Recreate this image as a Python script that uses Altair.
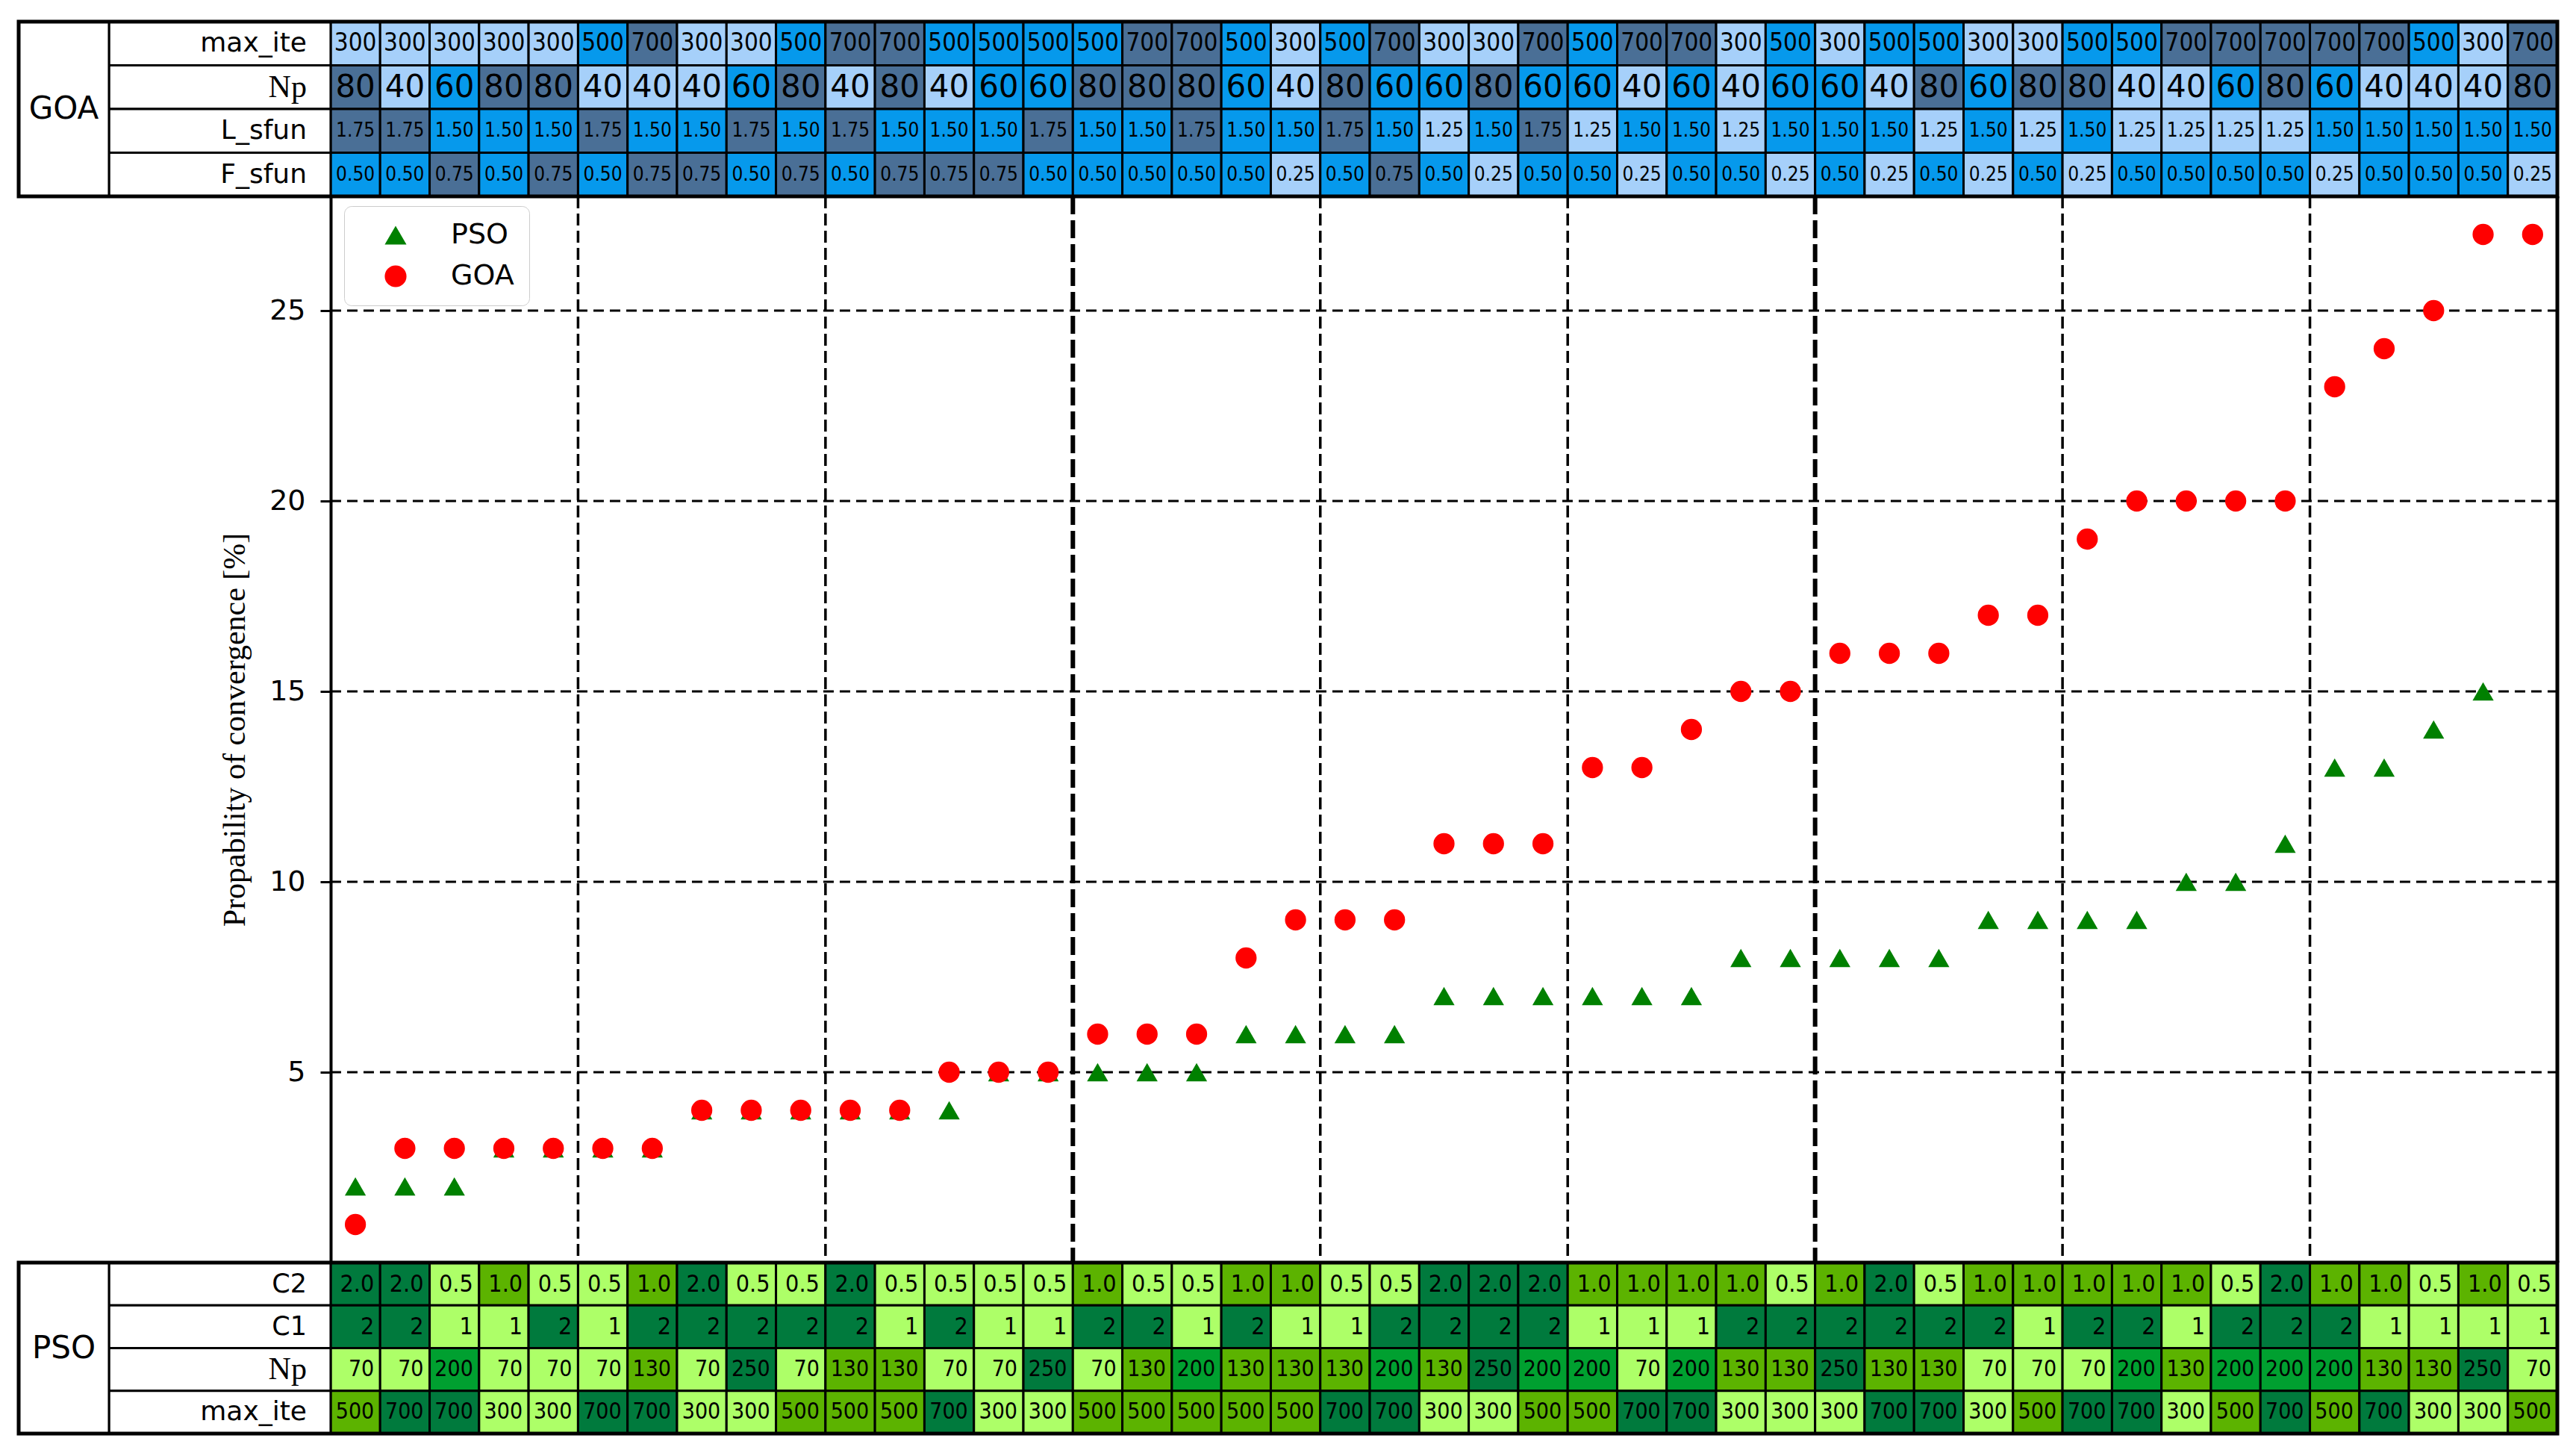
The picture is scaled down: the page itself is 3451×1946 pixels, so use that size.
import altair as alt
import pandas as pd

# ---------------- data ----------------
columns = list(range(1, 46))

goa_max_ite = [300, 300, 300, 300, 300, 500, 700, 300, 300, 500, 700, 700, 500, 500, 500,
               500, 700, 700, 500, 300, 500, 700, 300, 300, 700, 500, 700, 700, 300, 500,
               300, 500, 500, 300, 300, 500, 500, 700, 700, 700, 700, 700, 500, 300, 700]
goa_np = [80, 40, 60, 80, 80, 40, 40, 40, 60, 80, 40, 80, 40, 60, 60,
          80, 80, 80, 60, 40, 80, 60, 60, 80, 60, 60, 40, 60, 40, 60,
          60, 40, 80, 60, 80, 80, 40, 40, 60, 80, 60, 40, 40, 40, 80]
goa_l_sfun = [1.75, 1.75, 1.50, 1.50, 1.50, 1.75, 1.50, 1.50, 1.75, 1.50, 1.75, 1.50, 1.50, 1.50, 1.75,
              1.50, 1.50, 1.75, 1.50, 1.50, 1.75, 1.50, 1.25, 1.50, 1.75, 1.25, 1.50, 1.50, 1.25, 1.50,
              1.50, 1.50, 1.25, 1.50, 1.25, 1.50, 1.25, 1.25, 1.25, 1.25, 1.50, 1.50, 1.50, 1.50, 1.50]
goa_f_sfun = [0.50, 0.50, 0.75, 0.50, 0.75, 0.50, 0.75, 0.75, 0.50, 0.75, 0.50, 0.75, 0.75, 0.75, 0.50,
              0.50, 0.50, 0.50, 0.50, 0.25, 0.50, 0.75, 0.50, 0.25, 0.50, 0.50, 0.25, 0.50, 0.50, 0.25,
              0.50, 0.25, 0.50, 0.25, 0.50, 0.25, 0.50, 0.50, 0.50, 0.50, 0.25, 0.50, 0.50, 0.50, 0.25]

pso_c2 = [2.0, 2.0, 0.5, 1.0, 0.5, 0.5, 1.0, 2.0, 0.5, 0.5, 2.0, 0.5, 0.5, 0.5, 0.5,
          1.0, 0.5, 0.5, 1.0, 1.0, 0.5, 0.5, 2.0, 2.0, 2.0, 1.0, 1.0, 1.0, 1.0, 0.5,
          1.0, 2.0, 0.5, 1.0, 1.0, 1.0, 1.0, 1.0, 0.5, 2.0, 1.0, 1.0, 0.5, 1.0, 0.5]
pso_c1 = [2, 2, 1, 1, 2, 1, 2, 2, 2, 2, 2, 1, 2, 1, 1,
          2, 2, 1, 2, 1, 1, 2, 2, 2, 2, 1, 1, 1, 2, 2,
          2, 2, 2, 2, 1, 2, 2, 1, 2, 2, 2, 1, 1, 1, 1]
pso_np = [70, 70, 200, 70, 70, 70, 130, 70, 250, 70, 130, 130, 70, 70, 250,
          70, 130, 200, 130, 130, 130, 200, 130, 250, 200, 200, 70, 200, 130, 130,
          250, 130, 130, 70, 70, 70, 200, 130, 200, 200, 200, 130, 130, 250, 70]
pso_max_ite = [500, 700, 700, 300, 300, 700, 700, 300, 300, 500, 500, 500, 700, 300, 300,
               500, 500, 500, 500, 500, 700, 700, 300, 300, 500, 500, 700, 700, 300, 300,
               300, 700, 700, 300, 500, 700, 700, 300, 500, 700, 500, 700, 300, 300, 500]

goa_prob = [1, 3, 3, 3, 3, 3, 3, 4, 4, 4, 4, 4, 5, 5, 5,
            6, 6, 6, 8, 9, 9, 9, 11, 11, 11, 13, 13, 14, 15, 15,
            16, 16, 16, 17, 17, 19, 20, 20, 20, 20, 23, 24, 25, 27, 27]
pso_prob = [2, 2, 2, 3, 3, 3, 3, 4, 4, 4, 4, 4, 4, 5, 5,
            5, 5, 5, 6, 6, 6, 6, 7, 7, 7, 7, 7, 7, 8, 8,
            8, 8, 8, 9, 9, 9, 9, 10, 10, 11, 13, 13, 14, 15]

ytick_values = [5, 10, 15, 20, 25]
y_title = "Propability of convergence [%]"
series_names = ["PSO", "GOA"]

# ---------------- style ----------------
BL = {"light": "#a6d0fa", "mid": "#0699ec", "dark": "#4a6f96"}
GR = {"light": "#adff68", "mid": "#5cb300", "bright": "#00a030", "dark": "#007a3d"}

XMIN, XLAB, XMAX = -5.805, -3.98, 45.5
W = 3401
TOP_H, MID_H, BOT_H = 234, 1428, 229
xs = alt.Scale(domain=[XMIN, XMAX], nice=False, zero=False)
SANS = "DejaVu Sans"
COND = "DejaVu Sans Condensed, Liberation Sans Narrow, DejaVu Sans"
SERIF = "Liberation Serif"


def table(group, rows, height, align, dx):
    n = len(rows)
    ys = alt.Scale(domain=[0, n], reverse=True, nice=False, zero=False)
    recs = []
    for r, row in enumerate(rows):
        for c, v in zip(columns, row["values"]):
            recs.append({"row": row["name"], "c0": c - 0.5, "c1": c + 0.5,
                         "ct": (c + 0.5) if align == "right" else c,
                         "r0": r, "r1": r + 1, "rm": r + 0.5,
                         "txt": row["fmt"].format(v), "fill": row["colors"][v]})
    df = pd.DataFrame(recs)

    def X(f):
        return alt.X(f, scale=xs, axis=None)

    def Y(f):
        return alt.Y(f, scale=ys, axis=None)

    layers = [alt.Chart(df).mark_rect(stroke="black", strokeWidth=3).encode(
        x=X("c0:Q"), x2="c1:Q", y=Y("r0:Q"), y2="r1:Q",
        fill=alt.Fill("fill:N", scale=None))]
    for row in rows:
        layers.append(alt.Chart(df).transform_filter(alt.datum.row == row["name"]).mark_text(
            font=row["font"], fontSize=row["size"], align=align, baseline="middle",
            dx=dx, color="black").encode(x=X("ct:Q"), y=Y("rm:Q"), text="txt:N"))

    lab = pd.DataFrame({"name": [r["name"] for r in rows], "r0": list(range(n)),
                        "r1": [i + 1 for i in range(n)], "rm": [i + 0.5 for i in range(n)],
                        "x0": XLAB, "x1": 0.5})
    layers.append(alt.Chart(lab).mark_rect(fill="white", stroke="black", strokeWidth=3).encode(
        x=X("x0:Q"), x2="x1:Q", y=Y("r0:Q"), y2="r1:Q"))
    for row in rows:
        layers.append(alt.Chart(lab).transform_filter(alt.datum.name == row["name"]).mark_text(
            font=row["lfont"], fontSize=row["lsize"], align="right", baseline="middle",
            dx=-32, color="black").encode(x=X("x1:Q"), y=Y("rm:Q"), text="name:N"))

    grp = pd.DataFrame({"g": [group], "x0": [XMIN], "x1": [XLAB], "xm": [(XMIN + XLAB) / 2],
                        "r0": [0], "r1": [n], "rm": [n / 2], "xr": [XMAX]})
    layers.append(alt.Chart(grp).mark_rect(fill="white", stroke="black", strokeWidth=3).encode(
        x=X("x0:Q"), x2="x1:Q", y=Y("r0:Q"), y2="r1:Q"))
    layers.append(alt.Chart(grp).mark_text(font=SANS, fontSize=42, align="center",
                                           baseline="middle", color="black").encode(
        x=X("xm:Q"), y=Y("rm:Q"), text="g:N"))
    layers.append(alt.Chart(grp).mark_rect(fillOpacity=0, stroke="black", strokeWidth=5).encode(
        x=X("x0:Q"), x2="xr:Q", y=Y("r0:Q"), y2="r1:Q"))
    return alt.layer(*layers).properties(width=W, height=height)


goa_rows = [
    {"name": "max_ite", "values": goa_max_ite, "fmt": "{}", "font": COND, "size": 33,
     "colors": {300: BL["light"], 500: BL["mid"], 700: BL["dark"]}, "lfont": SANS, "lsize": 36},
    {"name": "Np", "values": goa_np, "fmt": "{}", "font": SANS, "size": 42,
     "colors": {40: BL["light"], 60: BL["mid"], 80: BL["dark"]}, "lfont": SERIF, "lsize": 42},
    {"name": "L_sfun", "values": goa_l_sfun, "fmt": "{:.2f}", "font": COND, "size": 26,
     "colors": {1.25: BL["light"], 1.50: BL["mid"], 1.75: BL["dark"]}, "lfont": SANS, "lsize": 36},
    {"name": "F_sfun", "values": goa_f_sfun, "fmt": "{:.2f}", "font": COND, "size": 26,
     "colors": {0.25: BL["light"], 0.50: BL["mid"], 0.75: BL["dark"]}, "lfont": SANS, "lsize": 36},
]
pso_rows = [
    {"name": "C2", "values": pso_c2, "fmt": "{:.1f}", "font": COND, "size": 32,
     "colors": {0.5: GR["light"], 1.0: GR["mid"], 2.0: GR["dark"]}, "lfont": SANS, "lsize": 35},
    {"name": "C1", "values": pso_c1, "fmt": "{}", "font": COND, "size": 32,
     "colors": {1: GR["light"], 2: GR["dark"]}, "lfont": SANS, "lsize": 35},
    {"name": "Np", "values": pso_np, "fmt": "{}", "font": COND, "size": 30,
     "colors": {70: GR["light"], 130: GR["mid"], 200: GR["bright"], 250: GR["dark"]},
     "lfont": SERIF, "lsize": 42},
    {"name": "max_ite", "values": pso_max_ite, "fmt": "{}", "font": COND, "size": 30,
     "colors": {300: GR["light"], 500: GR["mid"], 700: GR["dark"]}, "lfont": SANS, "lsize": 36},
]

top = table("GOA", goa_rows, TOP_H, "center", 0)
bottom = table("PSO", pso_rows, BOT_H, "right", -8)

# ---------------- middle scatter ----------------
ys_mid = alt.Scale(domain=[0, 28], nice=False, zero=False)
y_axis = alt.Axis(values=ytick_values, offset=-418, tickSize=14, tickWidth=3, tickColor="black",
                  domainColor="black", domainWidth=4, labelFontSize=38, labelFont=SANS,
                  labelColor="black", labelPadding=20, title=y_title, titleFont=SERIF,
                  titleFontSize=42, titleFontWeight="normal", titleColor="black",
                  titlePadding=24, grid=False)

pts = pd.DataFrame(
    [{"algo": "PSO", "col": c, "prob": p} for c, p in zip(columns, pso_prob)]
    + [{"algo": "GOA", "col": c, "prob": p} for c, p in zip(columns, goa_prob)])

hgrid = alt.Chart(pd.DataFrame({"y": ytick_values, "x0": 0.5, "x1": XMAX})).mark_rule(
    color="black", strokeWidth=3, strokeDash=[14, 8]).encode(
    x=alt.X("x0:Q", scale=xs, axis=None), x2="x1:Q",
    y=alt.Y("y:Q", scale=ys_mid, axis=y_axis))

vthin = alt.Chart(pd.DataFrame({"x": [5.5, 10.5, 20.5, 25.5, 35.5, 40.5]})).mark_rule(
    color="black", strokeWidth=3.5, strokeDash=[16, 7]).encode(
    x=alt.X("x:Q", scale=xs, axis=None))
vthick = alt.Chart(pd.DataFrame({"x": [15.5, 30.5]})).mark_rule(
    color="black", strokeWidth=6, strokeDash=[24, 8]).encode(
    x=alt.X("x:Q", scale=xs, axis=None))
rborder = alt.Chart(pd.DataFrame({"x": [XMAX]})).mark_rule(
    color="black", strokeWidth=5).encode(x=alt.X("x:Q", scale=xs, axis=None))

legend = alt.Legend(orient="none", legendX=436, legendY=TOP_H + 13, padding=20,
                    strokeColor="#cccccc", cornerRadius=10, fillColor="white",
                    labelFontSize=38, labelFont=SANS, labelColor="black",
                    symbolSize=850, symbolOffset=30, labelOffset=55, rowPadding=17,
                    symbolStrokeWidth=0)
points = alt.Chart(pts).mark_point(filled=True, size=800, opacity=1).encode(
    x=alt.X("col:Q", scale=xs, axis=None),
    y=alt.Y("prob:Q", scale=ys_mid, axis=y_axis),
    color=alt.Color("algo:N", title=None,
                    scale=alt.Scale(domain=series_names, range=["#008000", "#ff0000"]),
                    legend=legend),
    shape=alt.Shape("algo:N", title=None,
                    scale=alt.Scale(domain=series_names, range=["triangle-up", "circle"]),
                    legend=legend),
)

middle = alt.layer(hgrid, vthin, vthick, rborder, points).properties(width=W, height=MID_H)

chart = alt.vconcat(top, middle, bottom, spacing=0, bounds="flush").properties(
    padding={"left": 14, "top": 18, "right": 5, "bottom": 5}
).configure_view(stroke="transparent")

chart.save("out.html", embed_options={"renderer": "svg", "actions": False})
